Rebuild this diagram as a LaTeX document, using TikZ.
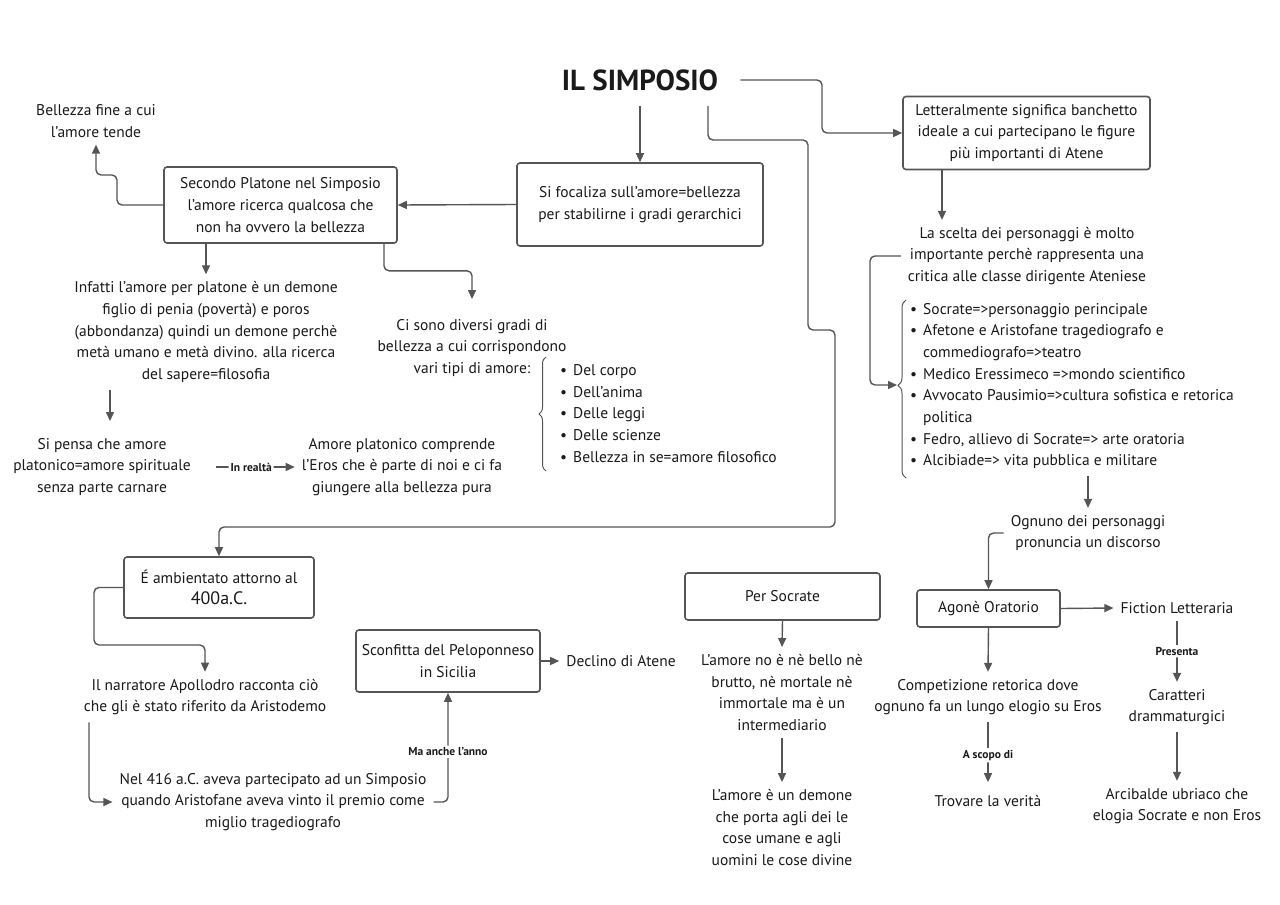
\documentclass[tikz,border=0pt]{standalone}
\usepackage{fontspec}
\setmainfont{PT Sans}
\usetikzlibrary{arrows.meta,decorations.pathreplacing,calc}
\definecolor{lc}{HTML}{555555}
\definecolor{tc}{HTML}{1a1a1a}
\begin{document}
\begin{tikzpicture}[x=1pt,y=-1pt,
  every node/.style={text=tc},
  tx/.style={align=center, inner sep=7pt, font=\fontsize{15.5}{21.7}\selectfont},
  bx/.style={draw=lc, line width=1.6pt, rounded corners=3pt, align=center, inner sep=2pt, font=\fontsize{15.5}{21.7}\selectfont},
  ar/.style={draw=lc, line width=1.4pt, -{Triangle[length=9pt,width=8pt]}, rounded corners=5pt},
  lb/.style={font=\bfseries\fontsize{11.5}{13}\selectfont, fill=white, inner sep=2pt},
  br/.style={draw=lc, line width=1pt, decorate}]
\fill[white] (0,0) rectangle (1280,905);
\useasboundingbox (0,0) rectangle (1280,905);

% nodes
\node[font=\bfseries\fontsize{29}{32}\selectfont, inner xsep=22pt, inner ysep=15pt] (title) at (640,80) {IL SIMPOSIO};
\node[bx, minimum width=246pt, minimum height=83pt] (focal) at (640,204.5) {Si focaliza sull'amore=bellezza\\per stabilirne i gradi gerarchici};
\node[bx, minimum width=233pt, minimum height=76pt] (plat) at (280.5,205) {Secondo Platone nel Simposio\\l'amore ricerca qualcosa che\\non ha ovvero la bellezza};
\node[tx] (bell) at (96,121) {Bellezza fine a cui\\l'amore tende};
\node[tx] (infatti) at (206,332) {Infatti l'amore per platone è un demone\\figlio di penia (povertà) e poros\\(abbondanza) quindi un demone perchè\\metà umano e metà divino. alla ricerca\\del sapere=filosofia};
\node[tx] (cisono) at (472,348) {Ci sono diversi gradi di\\bellezza a cui corrispondono\\vari tipi di amore:};
\node[tx, align=left, anchor=west] (llist) at (553,413.5) {\textbullet\hspace{6pt}Del corpo\\\textbullet\hspace{6pt}Dell'anima\\\textbullet\hspace{6pt}Delle leggi\\\textbullet\hspace{6pt}Delle scienze\\\textbullet\hspace{6pt}Bellezza in se=amore filosofico};
\draw[br, decoration={brace, amplitude=7pt, aspect=0.5}] (546,471) -- (546,357);
\node[tx] (sipensa) at (102,467) {Si pensa che amore\\platonico=amore spirituale\\senza parte carnare};
\node[tx] (amplat) at (402,467) {Amore platonico comprende\\l'Eros che è parte di noi e ci fa\\giungere alla bellezza pura};

\node[bx, minimum width=190pt, minimum height=61pt] (amb) at (219,587.5) {É ambientato attorno al\\{\fontsize{18}{20}\selectfont 400a.C.}};
\node[tx] (narr) at (205,697) {Il narratore Apollodro racconta ciò\\che gli è stato riferito da Aristodemo};
\node[tx] (nel) at (273,802) {Nel 416 a.C. aveva partecipato ad un Simposio\\quando Aristofane aveva vinto il premio come\\miglio tragediografo};
\node[bx, minimum width=184pt, minimum height=62pt] (sconf) at (448,661) {Sconfitta del Peloponneso\\in Sicilia};
\node[tx] (declino) at (621,661) {Declino di Atene};

\node[bx, minimum width=195pt, minimum height=47pt] (persoc) at (782.5,596.5) {Per Socrate};
\node[tx] (nobello) at (782,692.5) {L'amore no è nè bello nè\\brutto, nè mortale nè\\immortale ma è un\\intermediario};
\node[tx] (demone) at (782,827.5) {L'amore è un demone\\che porta agli dei le\\cose umane e agli\\uomini le cose divine};

\node[bx, minimum width=247pt, minimum height=73pt] (letter) at (1026.5,133) {Letteralmente significa banchetto\\ideale a cui partecipano le figure\\più importanti di Atene};
\node[tx] (scelta) at (1027,256) {La scelta dei personaggi è molto\\importante perchè rappresenta una\\critica alle classe dirigente Ateniese};
\node[tx, align=left, anchor=west] (rlist) at (903,386) {\textbullet\hspace{6pt}Socrate=>personaggio perincipale\\\textbullet\hspace{6pt}Afetone e Aristofane tragediografo e\\\hphantom{\textbullet}\hspace{6pt}commediografo=>teatro\\\textbullet\hspace{6pt}Medico Eressimeco =>mondo scientifico\\\textbullet\hspace{6pt}Avvocato Pausimio=>cultura sofistica e retorica\\\hphantom{\textbullet}\hspace{6pt}politica\\\textbullet\hspace{6pt}Fedro, allievo di Socrate=> arte oratoria\\\textbullet\hspace{6pt}Alcibiade=> vita pubblica e militare};
\draw[br, decoration={brace, amplitude=8pt, aspect=0.52}] (906,478) -- (906,300);
\coordinate (rbt) at (897,385);

\node[tx] (ognuno) at (1088,533) {Ognuno dei personaggi\\pronuncia un discorso};
\node[bx, minimum width=143pt, minimum height=37pt] (agone) at (988.5,608.5) {Agonè Oratorio};
\node[tx] (fiction) at (1177,608) {Fiction Letteraria};
\node[tx] (caratt) at (1177,707) {Caratteri\\drammaturgici};
\node[tx] (arcib) at (1177,806) {Arcibalde ubriaco che\\elogia Socrate e non Eros};
\node[tx] (compet) at (988,697) {Competizione retorica dove\\ognuno fa un lungo elogio su Eros};
\node[tx] (trovare) at (988,801) {Trovare la verità};

% helper coordinates
\coordinate (sp) at (110,0);
\coordinate (nl) at (89,0);
\coordinate (lx) at (942,0);

% connectors
\draw[ar] (title.south) -- (focal.north);
\draw[ar] (title.east) -- (822,80) |- (letter.west);
\draw[ar] (focal.west) -- (plat.east);
\draw[ar] (plat.west) -- (117,205) -- (117,175) -- (96,175) -- (bell.south);
\draw[ar] (plat.south -| infatti.north) -- (infatti.north);
\draw[ar, shorten >=13pt] ([xshift=103.5pt]plat.south) -- ++(0,27) -| (cisono.north);
\draw[ar, shorten >=10pt] (sp |- infatti.south) -- (sp |- sipensa.north);
\draw[ar, shorten <=18pt] (sipensa.east) -- node[lb, pos=0.55]{In realtà} (amplat.west);
\draw[ar] ([xshift=68pt]title.south) -- (708,140) -- (808,140) -- (808,330) -- (835,330) -- (835,527) -| (amb.north);
\draw[ar] (amb.west) -- (94,587.5) -- (94,645) -| (narr.north);
\draw[ar] (nl |- narr.south) |- (nel.west);
\draw[ar] (nel.east) -| node[lb, pos=0.73]{Ma anche l'anno} (sconf.south);
\draw[ar] (sconf.east) -- (declino.west);
\draw[ar] (persoc.south) -- (nobello.north);
\draw[ar] (nobello.south) -- (demone.north);
\draw[ar] (lx |- letter.south) -- (lx |- scelta.north);
\draw[ar] (scelta.west) -- (870,256) |- (rbt);
\draw[ar] (ognuno.north |- rlist.south) -- (ognuno.north);
\draw[ar] (ognuno.west) -| (agone.north);
\draw[ar] (agone.east) -- (fiction.west);
\draw[ar] (fiction.south) -- node[lb]{Presenta} (caratt.north);
\draw[ar] (caratt.south) -- (arcib.north);
\draw[ar] (agone.south) -- (compet.north);
\draw[ar, shorten >=6pt] (compet.south) -- node[lb]{A scopo di} (trovare.north);
\end{tikzpicture}
\end{document}
